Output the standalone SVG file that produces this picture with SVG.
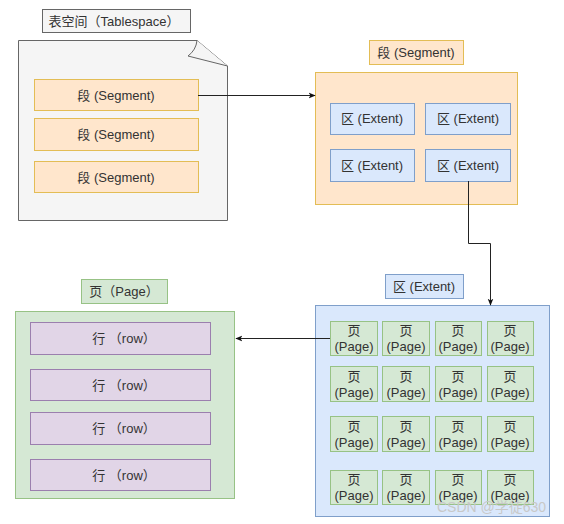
<svg xmlns="http://www.w3.org/2000/svg" width="564" height="524" viewBox="0 0 564 524">
<defs>
<style>
text{font-family:"Liberation Sans","Noto Sans CJK SC",sans-serif;font-size:13px;fill:#333;text-anchor:middle}
.gray{fill:#f5f5f5;stroke:#666;stroke-width:1}
.seg{fill:#ffe6cc;stroke:#e3bd55;stroke-width:1}
.ext{fill:#dae8fc;stroke:#7f9fca;stroke-width:1}
.pg{fill:#d5e8d4;stroke:#97c285;stroke-width:1}
.row{fill:#e1d5e7;stroke:#9b7fae;stroke-width:1}
.conn{fill:none;stroke:#222;stroke-width:1}
.wm{fill:#c8c8c8;font-size:14px;text-anchor:start}
</style>
<marker id="arr" viewBox="0 0 10 10" refX="9" refY="5" markerWidth="7" markerHeight="7" orient="auto" markerUnits="userSpaceOnUse">
<path d="M0,1 L10,5 L0,9 L2.5,5 Z" fill="#111"/>
</marker>
</defs>

<g id="tablespace">
<rect class="gray" x="42.5" y="9.5" width="148" height="23"/>
<text x="114" y="26">表空间（Tablespace）</text>
<path class="gray" d="M18.5,40.5 L197,40.5 L227.5,66 L227.5,220.5 L18.5,220.5 Z"/>
<path class="gray" d="M197,40.5 Q196,50 188,56 L227.5,66"/>
</g>

<g id="tablespace-segments">
<rect class="seg" x="34.5" y="79.5" width="164" height="31"/>
<text x="116" y="99.5">段 (Segment)</text>
<rect class="seg" x="34.5" y="118.5" width="164" height="32"/>
<text x="116" y="138.5">段 (Segment)</text>
<rect class="seg" x="34.5" y="161.5" width="164" height="31"/>
<text x="116" y="181.5">段 (Segment)</text>
</g>

<g id="segment">
<rect class="seg" x="369.5" y="40.5" width="94" height="24"/>
<text x="416" y="57">段 (Segment)</text>
<rect class="seg" x="315.5" y="72.5" width="202" height="132"/>
</g>

<g id="segment-extents">
<rect class="ext" x="330.5" y="103.5" width="84" height="31"/>
<text x="372" y="123">区 (Extent)</text>
<rect class="ext" x="425.5" y="103.5" width="85" height="31"/>
<text x="468" y="123">区 (Extent)</text>
<rect class="ext" x="330.5" y="149.5" width="84" height="32"/>
<text x="372" y="169.5">区 (Extent)</text>
<rect class="ext" x="425.5" y="149.5" width="85" height="32"/>
<text x="468" y="169.5">区 (Extent)</text>
</g>

<g id="extent">
<rect class="ext" x="385.5" y="274.5" width="78" height="24"/>
<text x="424" y="291">区 (Extent)</text>
<rect class="ext" x="315.5" y="305.5" width="234" height="211"/>
</g>

<g id="extent-pages">
<rect class="pg" x="330.5" y="321.5" width="47" height="34"/><text x="354" y="335">页</text><text x="354" y="351">(Page)</text>
<rect class="pg" x="382.5" y="321.5" width="47" height="34"/><text x="406" y="335">页</text><text x="406" y="351">(Page)</text>
<rect class="pg" x="435.5" y="321.5" width="46" height="34"/><text x="458" y="335">页</text><text x="458" y="351">(Page)</text>
<rect class="pg" x="487.5" y="321.5" width="46" height="34"/><text x="510" y="335">页</text><text x="510" y="351">(Page)</text>

<rect class="pg" x="330.5" y="366.5" width="47" height="35"/><text x="354" y="380.5">页</text><text x="354" y="396.5">(Page)</text>
<rect class="pg" x="382.5" y="366.5" width="47" height="35"/><text x="406" y="380.5">页</text><text x="406" y="396.5">(Page)</text>
<rect class="pg" x="435.5" y="366.5" width="46" height="35"/><text x="458" y="380.5">页</text><text x="458" y="396.5">(Page)</text>
<rect class="pg" x="487.5" y="366.5" width="46" height="35"/><text x="510" y="380.5">页</text><text x="510" y="396.5">(Page)</text>

<rect class="pg" x="330.5" y="416.5" width="47" height="35"/><text x="354" y="430.5">页</text><text x="354" y="446.5">(Page)</text>
<rect class="pg" x="382.5" y="416.5" width="47" height="35"/><text x="406" y="430.5">页</text><text x="406" y="446.5">(Page)</text>
<rect class="pg" x="435.5" y="416.5" width="46" height="35"/><text x="458" y="430.5">页</text><text x="458" y="446.5">(Page)</text>
<rect class="pg" x="487.5" y="416.5" width="46" height="35"/><text x="510" y="430.5">页</text><text x="510" y="446.5">(Page)</text>

<rect class="pg" x="330.5" y="470.5" width="47" height="34"/><text x="354" y="484">页</text><text x="354" y="500">(Page)</text>
<rect class="pg" x="382.5" y="470.5" width="47" height="34"/><text x="406" y="484">页</text><text x="406" y="500">(Page)</text>
<rect class="pg" x="435.5" y="470.5" width="46" height="34"/><text x="458" y="484">页</text><text x="458" y="500">(Page)</text>
<rect class="pg" x="487.5" y="470.5" width="46" height="34"/><text x="510" y="484">页</text><text x="510" y="500">(Page)</text>
</g>

<g id="page">
<rect class="pg" x="81.5" y="279.5" width="86" height="24"/>
<text x="124" y="296">页（Page）</text>
<rect class="pg" x="15.5" y="311.5" width="219" height="187"/>
</g>

<g id="page-rows">
<rect class="row" x="30.5" y="322.5" width="180" height="32"/>
<text x="124" y="343">行 （row）</text>
<rect class="row" x="30.5" y="369.5" width="180" height="31"/>
<text x="124" y="389.5">行 （row）</text>
<rect class="row" x="30.5" y="412.5" width="180" height="32"/>
<text x="124" y="433">行 （row）</text>
<rect class="row" x="30.5" y="459.5" width="180" height="31"/>
<text x="124" y="479.5">行 （row）</text>
</g>

<g id="connectors">
<path class="conn" d="M198,95.5 L315,95.5" marker-end="url(#arr)"/>
<path class="conn" d="M468.5,181 L468.5,243.5 L490.5,243.5 L490.5,305" marker-end="url(#arr)"/>
<path class="conn" d="M330,338.5 L236,338.5" marker-end="url(#arr)"/>
</g>

<text class="wm" x="437" y="512">CSDN @学徒630</text>
</svg>
